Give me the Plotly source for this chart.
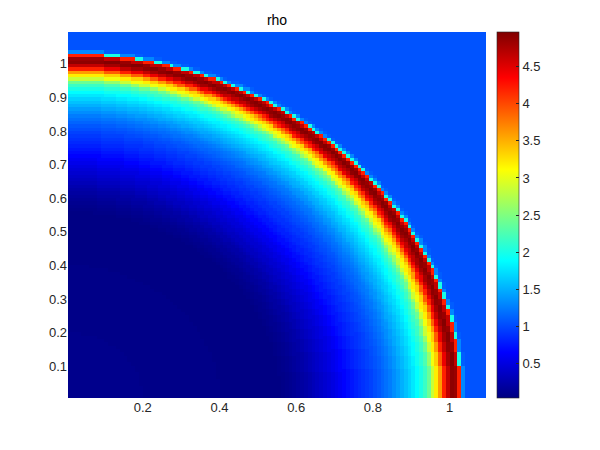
import numpy as np
import plotly.graph_objects as go

# Grid (cell centres) in x and y
x_centres = [round(0.005 + 0.01 * i, 3) for i in range(110)]
y_centres = [round(0.005 + 0.01 * i, 3) for i in range(110)]

# Radial density profile.
# Inner part: one value per 0.01 radial bin, r = 0.00 ... 0.79
rho_inner = (
    [0.09] * 20 + [0.07] * 20 + [0.05] * 16 +
    [0.07, 0.09, 0.11, 0.13, 0.16, 0.19, 0.22, 0.26, 0.30, 0.34,
     0.38, 0.42, 0.46, 0.50, 0.55, 0.60, 0.65, 0.70, 0.75, 0.80,
     0.84, 0.88, 0.92, 0.96]
)
# Shock region: one value per 0.005 radial bin, r = 0.800 ... 1.045
rho_shock = [
    1.00, 1.02, 1.05, 1.07, 1.10, 1.13, 1.16, 1.19, 1.22, 1.25,
    1.29, 1.33, 1.37, 1.41, 1.46, 1.50, 1.54, 1.58, 1.63, 1.67,
    1.72, 1.77, 1.82, 1.88, 1.95, 2.01, 2.08, 2.16, 2.25, 2.40,
    2.60, 2.85, 3.05, 3.20, 3.35, 3.60, 3.90, 4.20, 4.45, 4.65,
    4.80, 4.90, 4.95, 4.85, 4.65, 4.20, 2.00, 1.30, 1.10, 1.05,
]
rho_outside = 1.05

colorbar_ticks = [0.5, 1, 1.5, 2, 2.5, 3, 3.5, 4, 4.5]
x_ticks = [0.2, 0.4, 0.6, 0.8, 1]
y_ticks = [0.1, 0.2, 0.3, 0.4, 0.5, 0.6, 0.7, 0.8, 0.9, 1]

# bin start radii matching the profile tables (step lookup)
r_starts = np.concatenate([np.arange(len(rho_inner)) * 0.01,
                           0.80 + np.arange(len(rho_shock)) * 0.005,
                           [0.80 + len(rho_shock) * 0.005]])
values = np.array(rho_inner + rho_shock + [rho_outside])

X, Y = np.meshgrid(np.array(x_centres), np.array(y_centres))
R = np.sqrt(X ** 2 + Y ** 2)
idx = np.searchsorted(r_starts, R + 1e-9, side="right") - 1
Z = values[np.clip(idx, 0, len(values) - 1)]

jet = [
    [0.0, "rgb(0,0,128)"],
    [0.125, "rgb(0,0,255)"],
    [0.375, "rgb(0,255,255)"],
    [0.625, "rgb(255,255,0)"],
    [0.875, "rgb(255,0,0)"],
    [1.0, "rgb(128,0,0)"],
]

font = dict(family="Liberation Sans, Arial, sans-serif", size=13, color="#262626")

fig = go.Figure(
    go.Heatmap(
        x=x_centres, y=y_centres, z=Z,
        colorscale=jet, zmin=0.03, zmax=4.97,
        colorbar=dict(
            x=1.026, xanchor="left", xpad=0, ypad=0,
            y=0.5, yanchor="middle", len=1.0, lenmode="fraction",
            thickness=22, thicknessmode="pixels",
            tickvals=colorbar_ticks, ticktext=[str(v) for v in colorbar_ticks],
            ticks="inside", ticklen=3, tickcolor="#262626",
            outlinewidth=0.6, outlinecolor="#262626",
            tickfont=font,
        ),
    )
)

fig.update_layout(
    width=600, height=450,
    margin=dict(l=60, r=122, t=24, b=60),
    paper_bgcolor="white", plot_bgcolor="white",
    title=dict(text="rho", x=(60 + 478) / 2 / 600, xanchor="center",
               y=1 - 12 / 450, yanchor="middle",
               font=dict(family="Liberation Sans, Arial, sans-serif", size=14, color="#000000")),
    xaxis=dict(range=[0.005, 1.095], tickvals=x_ticks, ticktext=[str(v) for v in x_ticks],
               showgrid=False, zeroline=False, ticks="", tickfont=font, showline=False),
    yaxis=dict(range=[0.005, 1.095], tickvals=y_ticks, ticktext=[str(v) for v in y_ticks],
               showgrid=False, zeroline=False, ticks="", tickfont=font, showline=False),
)

fig.write_html("out.html")
